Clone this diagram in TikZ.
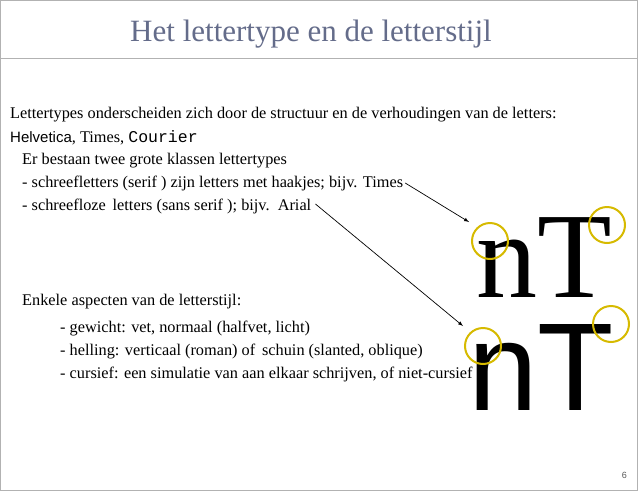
\documentclass[tikz,border=0pt]{standalone}
\usepackage{fontspec}
\setmainfont{Liberation Serif}
\newfontfamily\hv{Liberation Sans}
\newfontfamily\cou{Liberation Mono}
\begin{document}
\begin{tikzpicture}[x=1pt,y=-1pt,
  txt/.style={anchor=base west,inner sep=0pt,font=\fontsize{16.3}{18}\selectfont},
  ring/.style={draw={rgb,255:red,214;green,186;blue,0},line width=2pt},
  arr/.style={-latex,line width=0.7pt}]
\useasboundingbox (0,0) rectangle (638,491);
\draw[gray!60,line width=0.8pt] (0.5,0.5) rectangle (637.5,490.5);
\draw[gray!60,line width=0.8pt] (0,58) -- (638,58);
\node[anchor=base,inner sep=0pt,font=\fontsize{31}{34}\selectfont,text={rgb,255:red,100;green,108;blue,138}] (title) at (311,41) {Het lettertype en de letterstijl};
\node[txt] (l1) at (10,118) {Lettertypes onderscheiden zich door de structuur en de verhoudingen van de letters:};
\node[txt] (l2) at (10,142) {{\hv\fontsize{15}{18}\selectfont Helvetica}, Times, {\cou\fontsize{16.5}{18}\selectfont Courier}};
\node[txt] (l3) at (22,164) {Er bestaan twee grote klassen lettertypes};
\node[txt] (l4) at (22,187) {- schreefletters (serif ) zijn letters met haakjes; bijv. Times};
\node[txt] (l5) at (22,210) {- schreefloze\, letters (sans serif ); bijv.\, Arial};
\node[txt] (l6) at (22,305) {Enkele aspecten van de letterstijl:};
\node[txt] (l7) at (60,332) {- gewicht: vet, normaal (halfvet, licht)};
\node[txt] (l8) at (60,355) {- helling: verticaal (roman) of\, schuin (slanted, oblique)};
\node[txt] (l9) at (60,378) {- cursief: een simulatie van aan elkaar schrijven, of niet-cursief};
\node[anchor=base west,inner sep=0pt,font=\fontsize{122}{125}\selectfont] (big1) at (476,297) {nT};
\node[anchor=base west,inner sep=0pt,font=\hv\fontsize{125}{128}\selectfont] (big2) at (468,410) {nT};
\draw[ring] (490,241) circle (18);
\draw[ring] (607,225) circle (18);
\draw[ring] (483,346) circle (18);
\draw[ring] (611,324) circle (18);
\coordinate (e1) at (469,222);
\coordinate (e2) at (463,326);
\draw[arr] (l4.base east) ++(2,-4) -- (e1);
\draw[arr] (l5.base east) ++(4,-6) -- (e2);
\node[anchor=base east,inner sep=0pt,font=\hv\fontsize{9}{10}\selectfont,text=gray!70!black] (pg) at (627,478) {6};
\end{tikzpicture}
\end{document}
